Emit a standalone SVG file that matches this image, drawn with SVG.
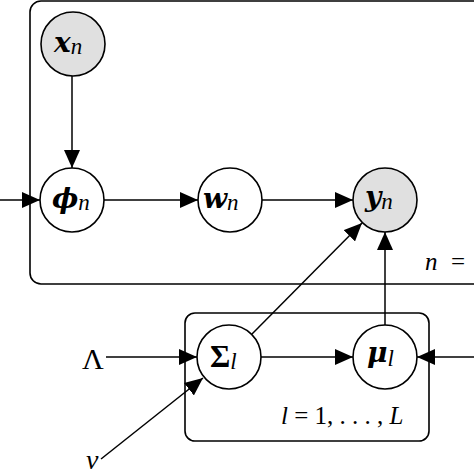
<svg xmlns="http://www.w3.org/2000/svg" width="474" height="474" viewBox="0 0 474 474">
<style>
.plate{fill:none;stroke:#000;stroke-width:1.6}
.node{stroke:#000;stroke-width:1.6;fill:#fff}
.obs{fill:#e0e0e0}
.edge{stroke:#000;stroke-width:1.5;fill:none}
.v{font-family:"DejaVu Serif","Liberation Serif",serif;font-weight:bold;font-style:italic;font-size:28px}
.g{font-family:"Liberation Serif","DejaVu Serif",serif;font-weight:bold;font-size:31px}
.s{font-family:"Liberation Serif","DejaVu Serif",serif;font-style:italic;font-size:23px}
.lab{font-family:"Liberation Serif","DejaVu Serif",serif;font-size:25px}
.li{font-family:"Liberation Serif","DejaVu Serif",serif;font-style:italic;font-size:25px}
.big{font-family:"Liberation Serif","DejaVu Serif",serif;font-size:30px}
.nu{font-family:"Liberation Serif","DejaVu Serif",serif;font-style:italic;font-size:28px}
</style>
<defs>
<marker id="ah" markerUnits="userSpaceOnUse" markerWidth="19" markerHeight="16" refX="18" refY="8" orient="auto">
<path d="M0,0 L18,8 L0,16 z" fill="#000"/>
</marker>
</defs>
<g id="plates">
<rect class="plate" x="30" y="1" width="470" height="283" rx="11"/>
<text class="li" x="425" y="270">n</text><text class="lab" x="451" y="270">=</text>
<rect class="plate" x="185" y="313" width="244" height="128" rx="10"/>
<text class="li" x="281" y="424">l<tspan class="lab" font-style="normal"> = 1, . . . , </tspan>L</text>
</g>
<g id="edges">
<line class="edge" x1="0" y1="200" x2="40" y2="200" marker-end="url(#ah)"/>
<line class="edge" x1="72" y1="76" x2="72" y2="168" marker-end="url(#ah)"/>
<line class="edge" x1="104" y1="200" x2="198" y2="200" marker-end="url(#ah)"/>
<line class="edge" x1="262" y1="200" x2="353" y2="200" marker-end="url(#ah)"/>
<line class="edge" x1="252" y1="334" x2="362" y2="223" marker-end="url(#ah)"/>
<line class="edge" x1="385" y1="325" x2="385" y2="232" marker-end="url(#ah)"/>
<line class="edge" x1="106" y1="357" x2="197" y2="357" marker-end="url(#ah)"/>
<line class="edge" x1="101" y1="459" x2="203" y2="378" marker-end="url(#ah)"/>
<line class="edge" x1="261" y1="357" x2="353" y2="357" marker-end="url(#ah)"/>
<line class="edge" x1="474" y1="357" x2="417" y2="357" marker-end="url(#ah)"/>
</g>
<g id="x_n"><circle class="node obs" cx="73" cy="44" r="32"/><text x="54" y="52"><tspan class="v">x</tspan><tspan class="s" dy="2">n</tspan></text></g>
<g id="phi_n"><circle class="node" cx="72" cy="200" r="32"/><text x="52" y="208"><tspan class="v">ϕ</tspan><tspan class="s" dy="2">n</tspan></text></g>
<g id="w_n"><circle class="node" cx="230" cy="200" r="32"/><text x="203" y="208"><tspan class="v">w</tspan><tspan class="s" dy="2">n</tspan></text></g>
<g id="y_n"><circle class="node obs" cx="385" cy="200" r="32"/><text x="365" y="206"><tspan class="v">y</tspan><tspan class="s" dy="3">n</tspan></text></g>
<g id="Sigma_l"><circle class="node" cx="229" cy="357" r="32"/><text x="210" y="367"><tspan class="g">Σ</tspan><tspan class="s" dy="2">l</tspan></text></g>
<g id="mu_l"><circle class="node" cx="385" cy="357" r="32"/><text x="367" y="362"><tspan class="v">μ</tspan><tspan class="s" dy="4">l</tspan></text></g>
<g id="Lambda"><text class="big" x="82" y="369">Λ</text></g>
<g id="nu"><text class="nu" x="86" y="469">ν</text></g>
</svg>
